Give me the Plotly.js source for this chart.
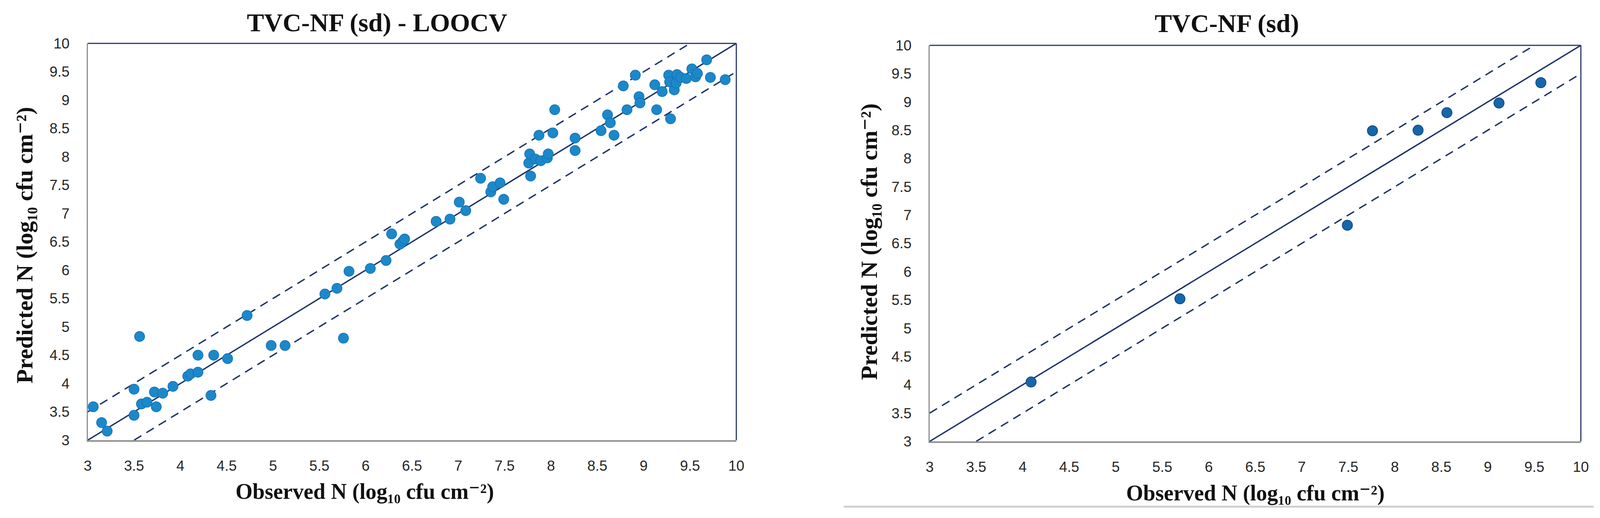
<!DOCTYPE html>
<html>
<head>
<meta charset="utf-8">
<script src="https://cdn.plot.ly/plotly-3.0.1.min.js"></script>
<style>html,body{margin:0;padding:0;background:#fff;}#chart{width:4098px;height:1325px;}</style>
</head>
<body>
<div id="chart"></div>
<script>
// ---- Data ----
// Left panel: TVC-NF (sd) - LOOCV
const loocvObserved = [
  3.06, 3.15, 3.21, 3.50, 3.50, 3.56, 3.58, 3.64, 3.72, 3.74, 3.81, 3.92,
  4.08, 4.11, 4.19, 4.19, 4.33, 4.36, 4.51, 4.72, 4.98, 5.13,
  5.56, 5.69, 5.76, 5.82, 6.05, 6.22, 6.28, 6.37, 6.40, 6.42,
  6.76, 6.91, 7.01, 7.08, 7.24, 7.35, 7.37, 7.45, 7.49,
  7.78, 7.76, 7.77, 7.83, 7.89, 7.96, 7.97, 7.87, 8.02, 8.04,
  8.26, 8.26, 8.54, 8.61, 8.64, 8.68, 8.78, 8.82, 8.91, 8.95, 8.96,
  9.12, 9.14, 9.20, 9.29, 9.27, 9.28, 9.33, 9.36, 9.35, 9.40, 9.46,
  9.52, 9.56, 9.58, 9.68, 9.72, 9.88
];
const loocvPredicted = [
  3.59, 3.31, 3.16, 3.90, 3.44, 4.83, 3.64, 3.67, 3.85, 3.59, 3.83, 3.95,
  4.13, 4.17, 4.20, 4.50, 3.79, 4.50, 4.44, 5.20, 4.67, 4.67,
  5.58, 5.68, 4.80, 5.98, 6.03, 6.17, 6.64, 6.46, 6.51, 6.55,
  6.86, 6.90, 7.20, 7.05, 7.62, 7.38, 7.47, 7.54, 7.25,
  7.66, 7.89, 8.05, 7.96, 7.93, 7.98, 8.05, 8.38, 8.42, 8.83,
  8.33, 8.11, 8.46, 8.74, 8.60, 8.38, 9.25, 8.83, 9.44, 9.06, 8.95,
  9.27, 8.83, 9.15, 8.67, 9.44, 9.32, 9.18, 9.45, 9.30, 9.40, 9.38,
  9.55, 9.41, 9.47, 9.71, 9.40, 9.36
];
// Right panel: TVC-NF (sd)
const sdObserved  = [4.09, 5.69, 7.49, 7.76, 8.25, 8.56, 9.12, 9.57];
const sdPredicted = [4.05, 5.52, 6.82, 8.49, 8.50, 8.81, 8.98, 9.34];

// Reference lines: line of equality and +/- band
const equalityLine = [3, 10];
const bandWidth = 0.5;

// Axis ticks
const tickValues = [3, 3.5, 4, 4.5, 5, 5.5, 6, 6.5, 7, 7.5, 8, 8.5, 9, 9.5, 10];
const tickLabels = ['3', '3.5', '4', '4.5', '5', '5.5', '6', '6.5', '7', '7.5', '8', '8.5', '9', '9.5', '10'];

// Texts
const leftTitle  = 'TVC-NF (sd) - LOOCV';
const rightTitle = 'TVC-NF (sd)';
const xTitle = 'Observed N (log\u2081\u2080 cfu cm\u207B\u00B2)';
const yTitle = 'Predicted N (log\u2081\u2080 cfu cm\u207B\u00B2)';

// ---- Styles ----
const W = 4098, H = 1325;
const navy = '#1d3366';
const lineW = 3.5;
const dashStyle = '22px,15px';

function refLines(xa, ya) {
  const lo = equalityLine[0], hi = equalityLine[1];
  return [
    {x: equalityLine, y: equalityLine, xaxis: xa, yaxis: ya, mode: 'lines',
     line: {color: navy, width: lineW}, hoverinfo: 'skip'},
    {x: [lo, hi - bandWidth], y: [lo + bandWidth, hi], xaxis: xa, yaxis: ya, mode: 'lines',
     line: {color: navy, width: lineW, dash: dashStyle}, hoverinfo: 'skip'},
    {x: [lo + bandWidth, hi], y: [lo, hi - bandWidth], xaxis: xa, yaxis: ya, mode: 'lines',
     line: {color: navy, width: lineW, dash: dashStyle}, hoverinfo: 'skip'}
  ];
}

const traces = [].concat(
  refLines('x', 'y'),
  [{x: loocvObserved, y: loocvPredicted, xaxis: 'x', yaxis: 'y', mode: 'markers', type: 'scatter',
    marker: {size: 26, color: '#1b88ca', line: {color: '#1670b2', width: 1.5}}}],
  refLines('x2', 'y2'),
  [{x: sdObserved, y: sdPredicted, xaxis: 'x2', yaxis: 'y2', mode: 'markers', type: 'scatter',
    marker: {size: 26, color: '#1766a9', line: {color: '#0e4a86', width: 2}}}]
);

const tickFont = {family: 'Liberation Sans, Arial, sans-serif', size: 37, color: '#262626'};

function xAxis(domain, anchor) {
  return {domain: domain, anchor: anchor, range: [3, 10], tickmode: 'array',
    tickvals: tickValues, ticktext: tickLabels, showgrid: false, zeroline: false,
    showline: true, linecolor: '#8f8f8f', linewidth: 4, ticks: '', ticklabelstandoff: 30,
    tickfont: tickFont, automargin: false, fixedrange: true};
}
function yAxis(domain, anchor) {
  return {domain: domain, anchor: anchor, range: [3, 10], tickmode: 'array',
    tickvals: tickValues, ticktext: tickLabels, showgrid: false, zeroline: false,
    showline: true, linecolor: '#8f8f8f', linewidth: 3, ticks: '', ticklabelstandoff: 36,
    tickfont: tickFont, automargin: false, fixedrange: true};
}

function border(xref, yref) {
  return [
    {type: 'line', xref: xref + ' domain', yref: yref + ' domain', x0: 0, x1: 1, y0: 1, y1: 1,
     line: {color: '#2b3768', width: 3}},
    {type: 'line', xref: xref + ' domain', yref: yref + ' domain', x0: 1, x1: 1, y0: 0, y1: 1,
     line: {color: '#2b3768', width: 3}}
  ];
}

const serif = 'Liberation Serif, Times New Roman, DejaVu Serif, serif';
const titleFont = {family: serif, size: 66, color: '#111', weight: 'bold'};
const xTitleFont = {family: serif, size: 56, color: '#111', weight: 'bold'};
const yTitleFont = {family: serif, size: 60, color: '#111', weight: 'bold'};

function ann(text, px, py, font, angle) {
  return {text: text, xref: 'paper', yref: 'paper', x: px / W, y: 1 - py / H,
    xanchor: 'center', yanchor: 'middle', showarrow: false, font: font, textangle: angle || 0};
}

const layout = {
  width: W, height: H,
  margin: {l: 0, r: 0, t: 0, b: 0},
  paper_bgcolor: '#ffffff', plot_bgcolor: '#ffffff',
  showlegend: false,
  xaxis: xAxis([224.5 / W, 1885 / W], 'y'),
  yaxis: yAxis([1 - 1126 / H, 1 - 111 / H], 'x'),
  xaxis2: xAxis([2380 / W, 4047 / W], 'y2'),
  yaxis2: yAxis([1 - 1129 / H, 1 - 116 / H], 'x2'),
  shapes: [].concat(border('x', 'y'), border('x2', 'y2'), [
    {type: 'line', xref: 'paper', yref: 'paper', x0: 2160 / W, x1: 4080 / W,
     y0: 1 - 1296 / H, y1: 1 - 1296 / H, line: {color: '#cfcfcf', width: 5}}
  ]),
  annotations: [
    ann(leftTitle, 965, 58, titleFont),
    ann(rightTitle, 3141, 60, titleFont),
    ann(xTitle, 934, 1257, xTitleFont),
    ann(xTitle, 3214, 1261, xTitleFont),
    ann(yTitle, 63, 627, yTitleFont, -90),
    ann(yTitle, 2225, 618, yTitleFont, -90)
  ]
};

Plotly.newPlot('chart', traces, layout, {staticPlot: true, displayModeBar: false});
</script>
</body>
</html>
